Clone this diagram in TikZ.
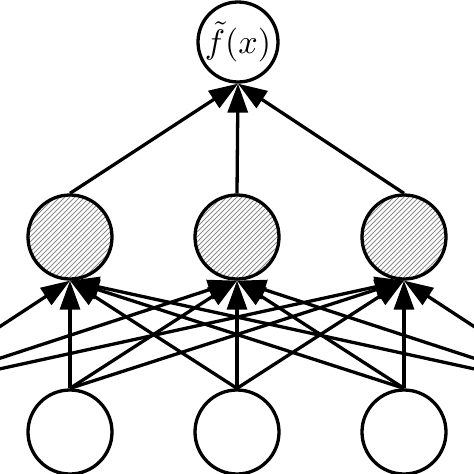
\documentclass[tikz,border=0pt]{standalone}
\usepackage{graphicx}
\usetikzlibrary{arrows.meta}
\begin{document}
\begin{tikzpicture}[x=1pt,y=1pt,
  neuron/.style={circle,draw=black,line width=3.3pt,inner sep=0pt,minimum size=84pt,fill=white},
  topneuron/.style={neuron,minimum size=80pt},
  hatch/.style={draw=black!45,line width=1pt},
  hidden/.style={neuron,path picture={\foreach \k in {-22,...,22}{\draw[hatch,shift={(path picture bounding box.center)}] (\k*5-50,-50) -- ++(100,100);}}},
  conn/.style={line width=3.3pt,-{Triangle[length=29pt,width=20pt]}}]
\useasboundingbox (0,0) rectangle (474,-474);
\clip (0,0) rectangle (474,-474);
\node[topneuron] (t) at (238,-42) {\scalebox{3.4}{$\tilde{f}(x)$}};
\node[hidden] (h1) at (70,-237) {};
\node[hidden] (h2) at (237,-237) {};
\node[hidden] (h3) at (404,-237) {};
\node[neuron] (i1) at (70,-432) {};
\node[neuron] (i2) at (237,-432) {};
\node[neuron] (i3) at (404,-432) {};
\coordinate (il) at (-97,-390);
\coordinate (ir) at (571,-390);
\foreach \h in {h1,h2,h3}{
  \draw[conn] (il) -- (\h.south);
  \draw[conn] (ir) -- (\h.south);
  \foreach \i in {i1,i2,i3}{
    \draw[conn] (\i.north) -- (\h.south);
  }
  \draw[conn] (\h.north) -- (t.south);
}
\end{tikzpicture}
\end{document}
